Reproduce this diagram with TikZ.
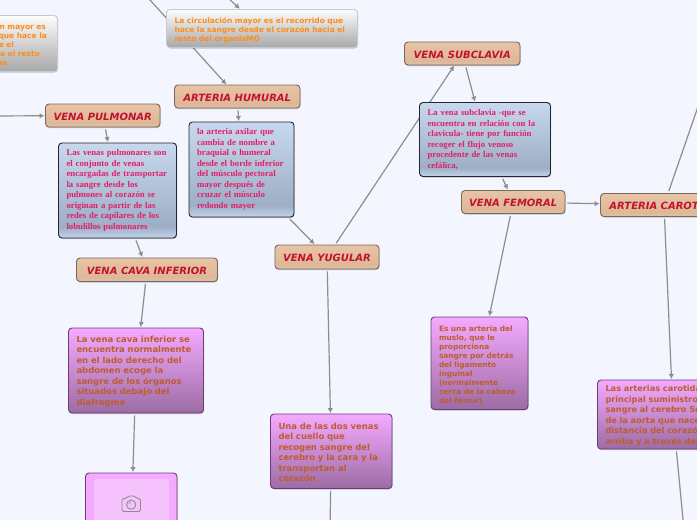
\documentclass[tikz,border=0pt]{standalone}
\usepackage{fontspec}
\setmainfont{DejaVu Sans}
\newfontfamily\timesb{Liberation Serif}
\usetikzlibrary{arrows.meta,shadows}
\definecolor{bgc}{HTML}{F3F6FF}
\definecolor{conn}{HTML}{8E8E8E}
\definecolor{blA}{HTML}{C4D4EA}
\definecolor{blB}{HTML}{9DAEC6}
\definecolor{blC}{HTML}{C8D8EE}
\definecolor{tnA}{HTML}{E4C0A2}
\definecolor{tnB}{HTML}{DDB898}
\definecolor{tnC}{HTML}{E8C4A6}
\definecolor{tanbd}{HTML}{75685C}
\pgfdeclareverticalshading{bluegrad}{100bp}{color(0bp)=(blA);color(25bp)=(blA);color(31bp)=(blB);color(75bp)=(blC);color(100bp)=(blC)}
\pgfdeclareverticalshading{tangrad}{100bp}{color(0bp)=(tnA);color(25bp)=(tnA);color(35bp)=(tnB);color(75bp)=(tnC);color(100bp)=(tnC)}
\definecolor{bluebd}{HTML}{222630}
\definecolor{titlec}{HTML}{C4122E}
\definecolor{bluet}{HTML}{E21F68}
\definecolor{purplebd}{HTML}{6E3A7C}
\definecolor{purplet}{HTML}{F4AAFF}
\definecolor{purpleb}{HTML}{9C6CA4}
\definecolor{purpletxt}{HTML}{BE5C30}
\definecolor{greybd}{HTML}{C6C8D2}
\definecolor{greyb}{HTML}{A8A8A8}
\definecolor{oranget}{HTML}{FF8C1A}
\tikzset{
  x=1pt,y=-1pt,
  basebox/.style={rectangle,rounded corners=3.5pt,inner xsep=8pt,inner ysep=0pt,align=left,
    drop shadow={shadow xshift=0.5pt,shadow yshift=-1pt,opacity=.22,fill=black}},
  titlebox/.style={basebox,draw=tanbd,line width=.9pt,shading=tangrad,text=titlec,align=center,inner xsep=0pt,text height=9.3pt,text depth=0pt,
    font=\fontsize{10}{11}\selectfont\bfseries\itshape},
  bluebox/.style={basebox,draw=bluebd,line width=.9pt,shading=bluegrad,text=bluet,
    font=\timesb\fontsize{8.75}{10.5}\selectfont\bfseries},
  purplebox/.style={basebox,draw=purplebd,line width=.9pt,top color=purplet,bottom color=purpleb,text=purpletxt,
    font=\fontsize{8.45}{10.5}\selectfont\bfseries,execute at begin node={\rule{0pt}{8.6pt}}},
  purplesmall/.style={purplebox,font=\fontsize{7.4}{9}\selectfont\bfseries,execute at begin node={\rule{0pt}{7.8pt}}},
  purplewide/.style={purplebox,font=\fontsize{8.2}{10.5}\selectfont\bfseries},
  greybox/.style={basebox,draw=greybd,line width=.9pt,top color=white!98!gray,bottom color=greyb,text=oranget,
    font=\fontsize{7.5}{9}\selectfont\bfseries,execute at begin node={\rule{0pt}{9.2pt}}},
  link/.style={draw=conn,line width=1.2pt,shorten >=.5pt,shorten <=2pt,-{Latex[length=5pt,width=5.5pt]}},
  plainlink/.style={draw=conn,line width=1.2pt,shorten <=2pt},
}
\begin{document}
\begin{tikzpicture}
\useasboundingbox (0,0) rectangle (697,520);
\clip (0,0) rectangle (697,520);
\fill[bgc] (0,0) rectangle (697,520);
\coordinate (topa) at (141,-10);
\coordinate (topb) at (219,-10);
\coordinate (lefta) at (-10,116);
\coordinate (righta) at (701,98);
\coordinate (downa) at (330,530);
\coordinate (downb) at (684,530);
% invisible anchors for connectors that run underneath boxes
\node[minimum width=125.5pt,minimum height=23pt,inner sep=0pt] (ah0) at (237.25,96.5) {};
\node[minimum width=104pt,minimum height=24pt,inner sep=0pt] (vy0) at (327,257) {};
\node[minimum width=115.5pt,minimum height=23pt,inner sep=0pt] (vs0) at (462.25,53.5) {};
\draw[link] (topa) -- (ah0);
\draw[link] (vy0) -- (vs0);

\node[greybox,text width=175pt,minimum height=38pt] (gr1) at (262,28.5)
 {La circulación mayor es el recorrido que\\hace la sangre desde el corazón hacia el\\resto del organisMO};
\node[greybox,inner xsep=6.75pt,text width=103.75pt,minimum height=56pt] (gr2) at (-1.125,43.5)
 {La circulación mayor es\\el recorrido que hace la\\sangre desde el\\corazón hacia el resto\\del organismo};
\node[titlebox,minimum width=125.5pt,minimum height=23pt] (ah) at (237.25,96.5) {ARTERIA HUMURAL};
\node[titlebox,minimum width=114.5pt,minimum height=23pt] (vp) at (102.75,115.5) {VENA PULMONAR};
\node[bluebox,text width=102pt,minimum height=95pt] (bp) at (117.5,190.5)
 {Las venas pulmonares son\\el conjunto de venas\\encargadas de transportar\\la sangre desde los\\pulmones al corazón se\\originan a partir de las\\redes de capilares de los\\lobulillos pulmonares};
\node[bluebox,text width=89pt,minimum height=95pt] (bh) at (241.5,169.5)
 {la arteria axilar que\\cambia de nombre a\\braquial o humeral\\desde el borde inferior\\del músculo pectoral\\mayor después de\\cruzar el músculo\\redondo mayor};
\node[titlebox,minimum width=115.5pt,minimum height=23pt] (vs) at (462.25,53.5) {VENA SUBCLAVIA};
\node[bluebox,text width=115pt,minimum height=74pt] (bs) at (485,139.5)
 {La vena subclavia -que se\\encuentra en relación con la\\clavicula- tiene por función\\recoger el flujo venoso\\procedente de las venas\\cefálica,};
\node[titlebox,minimum width=103.5pt,minimum height=23pt] (vf) at (513.25,202) {VENA FEMORAL};
\node[titlebox,minimum width=127pt,minimum height=23pt] (ac) at (664,205) {ARTERIA CAROTIDA};
\node[titlebox,minimum width=141pt,minimum height=23.5pt] (vc) at (147,269.75) {VENA CAVA INFERIOR};
\node[titlebox,minimum width=104pt,minimum height=24pt] (vy) at (327,257) {VENA YUGULAR};
\node[purplebox,text width=119pt,minimum height=85pt] (pc) at (136,370.5)
 {La vena cava inferior se\\encuentra normalmente\\en el lado derecho del\\abdomen ecoge la\\sangre de los órganos\\situados debajo del\\diafragma};
\node[purplebox,text width=105.5pt,minimum height=74.5pt] (py) at (331.25,451.25)
 {Una de las dos venas\\del cuello que\\recogen sangre del\\cerebro y la cara y la\\transportan al\\corazón};
\node[purplesmall,text width=81pt,minimum height=92.5pt] (pf) at (479.5,363.25)
 {Es una arteria del\\muslo, que le\\proporciona\\sangre por detrás\\del ligamento\\inguinal\\(normalmente\\cerca de la cabeza\\del fémur)};
\node[purplewide,text width=135pt,minimum height=69pt] (pa) at (673,414.5)
 {Las arterias carotidas\\principal suministro\\sangre al cerebro Son\\de la aorta que nace\\distancia del corazón\\arriba y a través del};
\node[basebox,draw=purplebd,line width=.9pt,fill=purplet,minimum width=91.5pt,minimum height=104pt,inner sep=0pt] (cam) at (131.25,525) {};
\fill[white,opacity=.3,rounded corners=3pt] (94,479) rectangle (169,530);
% camera icon
\begin{scope}[draw=conn,line width=.9pt,line join=round]
\draw[rounded corners=1.5pt] (122,498.5) -- (126.5,498.5) -- (128,496) -- (135,496) -- (136.5,498.5) -- (140.5,498.5) -- (140.5,511.5) -- (122,511.5) -- cycle;
\draw (131.2,504.7) circle (4.6pt);
\draw[line width=.6pt] (128.8,504) arc (180:100:2.4pt);
\end{scope}

\draw[link] (topb) -- (gr1);
\draw[link] (lefta) -- (vp);
\draw[link] (vp) -- (bp);
\draw[link] (bp) -- (vc);
\draw[link] (ah) -- (bh);
\draw[link] (bh) -- (vy);
\draw[link] (vs) -- (bs);
\draw[link] (bs) -- (vf);
\draw[link] (vf) -- (ac);
\draw[link] (vf) -- (pf);
\draw[plainlink] (ac) -- (righta);
\draw[link] (ac) -- (pa);
\draw[plainlink] (pa) -- (downb);
\draw[link] (vy) -- (py);
\draw[plainlink] (py) -- (downa);
\draw[link] (vc) -- (pc);
\draw[link] (pc) -- (cam);
\end{tikzpicture}
\end{document}
